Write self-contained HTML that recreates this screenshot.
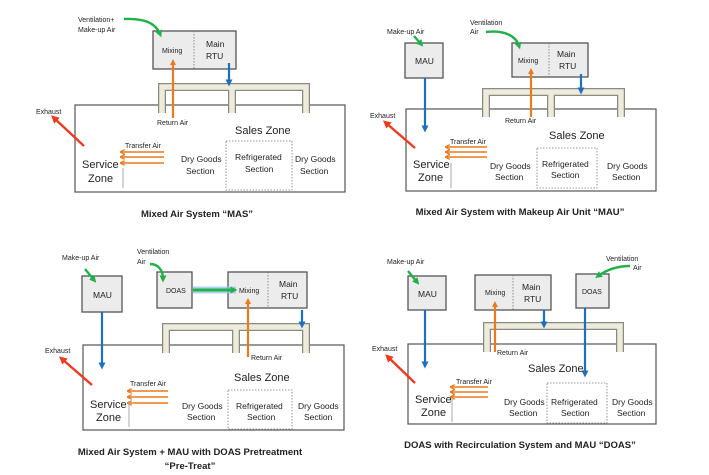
<!DOCTYPE html>
<html><head><meta charset="utf-8"><style>
html,body{margin:0;padding:0;background:#fff;width:709px;height:475px;overflow:hidden}
svg text{font-family:"Liberation Sans",sans-serif;fill:#222}
.s{font-size:7px}.m{font-size:8.5px}.z{font-size:11px}.t{font-size:9.5px;font-weight:bold}
.bx{fill:#ececec;stroke:#555;stroke-width:1.3}
.dash{stroke:#777;stroke-width:0.8;stroke-dasharray:1.5,1.5;fill:none}
.d1{fill:none;stroke:#8a8a80;stroke-width:8}
.d2{fill:none;stroke:#ecebdc;stroke-width:5.5}
.o{stroke:#ea7a1e;stroke-width:2.2;fill:none}
.t1{stroke:#ea7a1e;stroke-width:1.5;fill:none}
.b{stroke:#1f6fc0;stroke-width:2.2;fill:none}
.r{stroke:#f03a20;stroke-width:2.4;fill:none}
.g{stroke:#22b04a;stroke-width:2.4;fill:none}
</style></head><body>
<svg width="709" height="475" viewBox="0 0 709 475" xmlns="http://www.w3.org/2000/svg">
<defs>
<marker id="ao" markerWidth="6" markerHeight="6" refX="3" refY="3" orient="auto" markerUnits="userSpaceOnUse" viewBox="0 0 6 6"><path d="M0,0L6,3L0,6z" fill="#ea7a1e"/></marker>
<marker id="ab" markerWidth="7" markerHeight="7" refX="3.5" refY="3.5" orient="auto" markerUnits="userSpaceOnUse" viewBox="0 0 7 7"><path d="M0,0L7,3.5L0,7z" fill="#1f6fc0"/></marker>
<marker id="ar" markerWidth="8" markerHeight="8" refX="4" refY="4" orient="auto" markerUnits="userSpaceOnUse" viewBox="0 0 8 8"><path d="M0,0L8,4L0,8z" fill="#f03a20"/></marker>
<marker id="ag" markerWidth="7" markerHeight="7" refX="3.5" refY="3.5" orient="auto" markerUnits="userSpaceOnUse" viewBox="0 0 7 7"><path d="M0,0L7,3.5L0,7z" fill="#22b04a"/></marker>
<marker id="at" markerWidth="5" markerHeight="5" refX="4" refY="2.5" orient="auto" markerUnits="userSpaceOnUse" viewBox="0 0 5 5"><path d="M0,0L5,2.5L0,5" fill="none" stroke="#ea7a1e" stroke-width="1.3"/></marker>
</defs>

<!-- Panel 1 -->
<rect x="75" y="105" width="270" height="87" fill="#fff" stroke="#555" stroke-width="1.2"/>
<path class="d1" d="M162,113V87H306V113M232,87V113"/>
<path class="d2" d="M162,113V87H306V113M232,87V113"/>
<rect class="bx" x="153" y="31" width="83" height="38"/>
<path class="dash" d="M194,31V69"/>
<text class="s" x="162" y="53">Mixing</text>
<text class="m" x="206" y="47">Main</text><text class="m" x="206" y="59">RTU</text>
<path class="o" d="M173,118V62" marker-end="url(#ao)"/>
<path class="b" d="M229,63V83" marker-end="url(#ab)"/>
<path class="g" d="M124,19C146,18 156,24 160,34" marker-end="url(#ag)"/>
<text class="s" x="78" y="22">Ventilation+</text><text class="s" x="78" y="32">Make-up Air</text>
<text class="s" x="157" y="125">Return Air</text>
<text class="z" x="235" y="134">Sales Zone</text>
<path class="r" d="M84,146L54,118" marker-end="url(#ar)"/>
<text class="s" x="36" y="114">Exhaust</text>
<text class="s" x="125" y="148">Transfer Air</text>
<path class="t1" d="M164,152H121" marker-end="url(#at)"/><path class="t1" d="M164,157H121" marker-end="url(#at)"/><path class="t1" d="M164,163H121" marker-end="url(#at)"/>
<path d="M123,168V188" stroke="#aaa" stroke-width="1"/>
<text class="z" x="82" y="168">Service</text><text class="z" x="88" y="182">Zone</text>
<text class="m" x="181" y="162">Dry Goods</text><text class="m" x="186" y="174">Section</text>
<rect class="dash" x="226" y="141" width="66" height="49"/>
<text class="m" x="235" y="160">Refrigerated</text><text class="m" x="245" y="172">Section</text>
<text class="m" x="295" y="162">Dry Goods</text><text class="m" x="300" y="174">Section</text>
<text class="t" x="197" y="217" text-anchor="middle">Mixed Air System “MAS”</text>

<!-- Panel 2 -->
<rect x="406" y="109" width="250" height="82" fill="#fff" stroke="#555" stroke-width="1.2"/>
<path class="d1" d="M486,117V92H621V117M551,92V117"/>
<path class="d2" d="M486,117V92H621V117M551,92V117"/>
<rect class="bx" x="405" y="43" width="38" height="35"/>
<text class="m" x="415" y="64">MAU</text>
<rect class="bx" x="512" y="43" width="76" height="34"/>
<path class="dash" d="M549,43V77"/>
<text class="s" x="518" y="63">Mixing</text>
<text class="m" x="557" y="57">Main</text><text class="m" x="559" y="69">RTU</text>
<path class="b" d="M425,78V129" marker-end="url(#ab)"/>
<path class="b" d="M581,74V91" marker-end="url(#ab)"/>
<path class="o" d="M531,117V71" marker-end="url(#ao)"/>
<path class="g" d="M414,36L421,44" marker-end="url(#ag)"/>
<text class="s" x="387" y="34">Make-up Air</text>
<path class="g" d="M486,32C505,30 516,36 519,46" marker-end="url(#ag)"/>
<text class="s" x="470" y="25">Ventilation</text><text class="s" x="470" y="34">Air</text>
<text class="s" x="505" y="123">Return Air</text>
<text class="z" x="549" y="139">Sales Zone</text>
<path class="r" d="M415,148L386,123" marker-end="url(#ar)"/>
<text class="s" x="370" y="118">Exhaust</text>
<text class="s" x="450" y="144">Transfer Air</text>
<path class="t1" d="M487,147H446" marker-end="url(#at)"/><path class="t1" d="M487,152H446" marker-end="url(#at)"/><path class="t1" d="M487,157H446" marker-end="url(#at)"/>
<path d="M451,163V188" stroke="#aaa" stroke-width="1"/>
<text class="z" x="413" y="168">Service</text><text class="z" x="418" y="181">Zone</text>
<text class="m" x="490" y="169">Dry Goods</text><text class="m" x="495" y="180">Section</text>
<rect class="dash" x="537" y="148" width="60" height="40"/>
<text class="m" x="542" y="167">Refrigerated</text><text class="m" x="551" y="178">Section</text>
<text class="m" x="607" y="169">Dry Goods</text><text class="m" x="612" y="180">Section</text>
<text class="t" x="520" y="215" text-anchor="middle">Mixed Air System with Makeup Air Unit  “MAU”</text>

<!-- Panel 3 -->
<rect x="83" y="345" width="261" height="85" fill="#fff" stroke="#555" stroke-width="1.2"/>
<path class="d1" d="M166,353V327H306V353M236,327V353"/>
<path class="d2" d="M166,353V327H306V353M236,327V353"/>
<rect class="bx" x="82" y="276" width="40" height="36"/>
<text class="m" x="93" y="298">MAU</text>
<rect class="bx" x="157" y="272" width="35" height="36"/>
<text class="s" x="166" y="293">DOAS</text>
<rect class="bx" x="228" y="272" width="79" height="36"/>
<path class="dash" d="M268,272V308"/>
<text class="s" x="239" y="293">Mixing</text>
<text class="m" x="279" y="287">Main</text><text class="m" x="281" y="299">RTU</text>
<path d="M193,290H236" stroke="#8fc0f0" stroke-width="7" opacity="0.7"/>
<path class="g" style="stroke-width:3" d="M193,290H234" marker-end="url(#ag)"/>
<path class="b" d="M102,312V366" marker-end="url(#ab)"/>
<path class="b" d="M302,310V325" marker-end="url(#ab)"/>
<path class="o" d="M248,357V301" marker-end="url(#ao)"/>
<path class="g" d="M85,269L94,280" marker-end="url(#ag)"/>
<text class="s" x="62" y="260">Make-up Air</text>
<path class="g" d="M150,264C158,264 163,270 163,279" marker-end="url(#ag)"/>
<text class="s" x="137" y="254">Ventilation</text><text class="s" x="137" y="264">Air</text>
<text class="s" x="251" y="360">Return Air</text>
<text class="z" x="234" y="381">Sales Zone</text>
<path class="r" d="M92,385L62,359" marker-end="url(#ar)"/>
<text class="s" x="45" y="353">Exhaust</text>
<text class="s" x="130" y="386">Transfer Air</text>
<path class="t1" d="M168,391H128" marker-end="url(#at)"/><path class="t1" d="M168,397H128" marker-end="url(#at)"/><path class="t1" d="M168,403H128" marker-end="url(#at)"/>
<path d="M129,401V427" stroke="#aaa" stroke-width="1"/>
<text class="z" x="90" y="408">Service</text><text class="z" x="96" y="421">Zone</text>
<text class="m" x="182" y="409">Dry Goods</text><text class="m" x="187" y="420">Section</text>
<rect class="dash" x="228" y="390" width="64" height="39"/>
<text class="m" x="236" y="409">Refrigerated</text><text class="m" x="247" y="420">Section</text>
<text class="m" x="298" y="409">Dry Goods</text><text class="m" x="304" y="420">Section</text>
<text class="t" x="190" y="455" text-anchor="middle">Mixed Air System + MAU with DOAS Pretreatment</text>
<text class="t" x="190" y="469" text-anchor="middle">“Pre-Treat”</text>

<!-- Panel 4 -->
<rect x="408" y="344" width="248" height="80" fill="#fff" stroke="#555" stroke-width="1.2"/>
<path class="d1" d="M487,352V326H620V352"/>
<path class="d2" d="M487,352V326H620V352"/>
<rect class="bx" x="408" y="276" width="38" height="34"/>
<text class="m" x="418" y="297">MAU</text>
<rect class="bx" x="475" y="275" width="76" height="35"/>
<path class="dash" d="M513,275V310"/>
<text class="s" x="485" y="295">Mixing</text>
<text class="m" x="522" y="290">Main</text><text class="m" x="524" y="302">RTU</text>
<rect class="bx" x="576" y="274" width="33" height="34"/>
<text class="s" x="582" y="294">DOAS</text>
<path class="b" d="M425,310V365" marker-end="url(#ab)"/>
<path class="b" d="M544,310V325" marker-end="url(#ab)"/>
<path class="b" d="M585,308V374" marker-end="url(#ab)"/>
<path class="o" d="M495,352V304" marker-end="url(#ao)"/>
<path class="g" d="M408,271L417,282" marker-end="url(#ag)"/>
<text class="s" x="387" y="264">Make-up Air</text>
<path class="g" d="M630,266C615,266 605,271 598,276" marker-end="url(#ag)"/>
<text class="s" x="606" y="261">Ventilation</text><text class="s" x="633" y="270">Air</text>
<text class="s" x="497" y="355">Return Air</text>
<text class="z" x="528" y="372">Sales Zone</text>
<path class="r" d="M415,383L388,357" marker-end="url(#ar)"/>
<text class="s" x="372" y="351">Exhaust</text>
<text class="s" x="456" y="384">Transfer Air</text>
<path class="t1" d="M488,387H451" marker-end="url(#at)"/><path class="t1" d="M488,392H451" marker-end="url(#at)"/><path class="t1" d="M488,397H451" marker-end="url(#at)"/>
<path d="M452,397V422" stroke="#aaa" stroke-width="1"/>
<text class="z" x="415" y="403">Service</text><text class="z" x="421" y="416">Zone</text>
<text class="m" x="504" y="405">Dry Goods</text><text class="m" x="509" y="416">Section</text>
<rect class="dash" x="547" y="383" width="60" height="40"/>
<text class="m" x="551" y="405">Refrigerated</text><text class="m" x="561" y="416">Section</text>
<text class="m" x="612" y="405">Dry Goods</text><text class="m" x="617" y="416">Section</text>
<text class="t" x="520" y="448" text-anchor="middle">DOAS with Recirculation System and MAU  “DOAS”</text>
</svg>
</body></html>
